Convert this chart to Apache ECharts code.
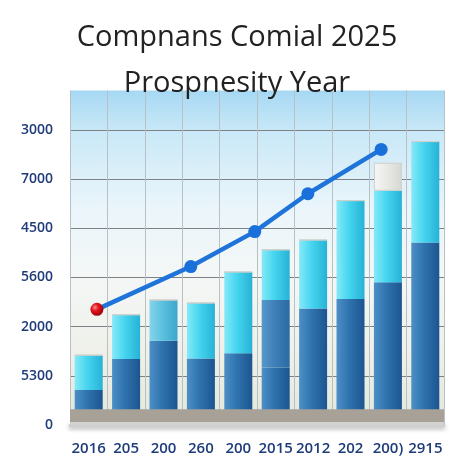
<!DOCTYPE html>
<html><head><meta charset="utf-8">
<script src="https://cdn.jsdelivr.net/npm/echarts@6/dist/echarts.min.js"></script>
<style>html,body{margin:0;padding:0;background:#fff}#c{width:474px;height:474px}</style>
</head><body><div id="c"></div>
<script>
// ---- data ----
const titleLines = ['Compnans Comial 2025', 'Prospnesity Year'];
const categories = ['2016', '205', '200', '260', '200', '2015', '2012', '202', '200)', '2915'];
const yTickLabels = ['0', '5300', '2000', '5600', '4500', '7000', '3000'];
// stacked bar segments (axis units: 1000 per tick step)
const darkSeg = [710, 1340, 1710, 1350, 1460, 1170, 2370, 2560, 2900, 3710];
const midSeg  = [0, 0, 0, 0, 0, 1370, 0, 0, 0, 0];
const cyanSeg = [710, 900, 830, 1130, 1650, 1020, 1390, 2000, 1860, 2050];
const capSeg  = [0, 0, 0, 0, 0, 0, 0, 0, 570, 0];
// trend line: position along the category axis (index units) and value
const lineX = [0.22, 2.73, 4.44, 5.86, 7.82];
const lineY = [2350, 3220, 3930, 4700, 5600];

// ---- styling ----
const hGrad = (a, b, c) => new echarts.graphic.LinearGradient(0, 0, 1, 0, [
  {offset: 0, color: a}, {offset: 0.45, color: b}, {offset: 1, color: c}]);
const darkFill = hGrad('#4d8fc6', '#2f73ae', '#1c5590');
const midFill = hGrad('#5a98cb', '#3f80b8', '#2b6aa3');
const cyanFill = hGrad('#86e9f8', '#45d5ef', '#27b2d6');
const cyanAlt = hGrad('#86d4ec', '#5cc1df', '#3ea6cc');
const capFill = hGrad('#f6f6f4', '#e9e9e6', '#d6d6d2');

const chart = echarts.init(document.getElementById('c'), null, {renderer: 'canvas'});
const labelColor = '#1e3b7a';

const barBase = {type: 'bar', stack: 'total', barWidth: 28, xAxisIndex: 0, yAxisIndex: 0};

chart.setOption({
  backgroundColor: '#ffffff',
  animation: false,
  title: {
    text: titleLines.join('\n'),
    left: 'center',
    top: 15,
    padding: 0,
    textStyle: {fontFamily: 'Open Sans', fontSize: 29, fontWeight: 'normal', color: '#222', lineHeight: 46}
  },
  grid: {
    left: 70, right: 30, top: 90.4, bottom: 49,
    show: true, borderWidth: 0,
    backgroundColor: new echarts.graphic.LinearGradient(0, 0, 0, 1, [
      {offset: 0, color: '#a6d8f3'},
      {offset: 0.12, color: '#c9e8f7'},
      {offset: 0.35, color: '#eaf5fb'},
      {offset: 0.55, color: '#f4f7f6'},
      {offset: 0.8, color: '#eef0e8'},
      {offset: 1, color: '#e3e7da'}
    ])
  },
  xAxis: [{
    type: 'category',
    data: categories,
    boundaryGap: true,
    axisTick: {show: false},
    axisLine: {show: true, lineStyle: {color: '#cfcfcf', width: 3, shadowColor: 'rgba(0,0,0,0.35)', shadowBlur: 4, shadowOffsetY: 2}},
    axisLabel: {color: labelColor, fontFamily: 'Open Sans', fontSize: 15, fontWeight: 600, margin: 16, interval: 0},
    splitLine: {show: true, interval: 0, lineStyle: {color: '#b7c0c5', width: 1}}
  }, {
    type: 'value', min: -0.5, max: 9.5, show: false
  }],
  yAxis: [{
    type: 'value', min: 0, max: 6800, interval: 1000,
    axisLine: {show: false}, axisTick: {show: false},
    axisLabel: {
      color: labelColor, fontFamily: 'Open Sans', fontSize: 14, fontWeight: 600, margin: 17,
      formatter: v => (v % 1000 === 0 && yTickLabels[v / 1000] !== undefined) ? yTickLabels[v / 1000] : ''
    },
    splitLine: {show: true, showMaxLine: false, lineStyle: {color: '#7c8286', width: 1}}
  }],
  series: [
    Object.assign({}, barBase, {name: 'dark', data: darkSeg, itemStyle: {color: darkFill}}),
    Object.assign({}, barBase, {name: 'mid', data: midSeg, itemStyle: {color: midFill}}),
    Object.assign({}, barBase, {name: 'cyan',
      data: cyanSeg.map((v, i) => i === 2 ? {value: v, itemStyle: {color: cyanAlt}} : v),
      itemStyle: {color: cyanFill}}),
    Object.assign({}, barBase, {name: 'cap', data: capSeg,
      itemStyle: {color: capFill, borderColor: '#cfcfcb', borderWidth: 1},
      markArea: {
        silent: true, z: 10,
        data: [
          [{yAxis: 60, itemStyle: {color: '#a8a198'}}, {yAxis: 320}],
          [{yAxis: 0, itemStyle: {color: '#d2d2d0'}}, {yAxis: 60}]
        ]
      }}),
    {
      type: 'line', name: 'trend', xAxisIndex: 1, yAxisIndex: 0, z: 12,
      data: lineX.map((x, i) => i === 0 ? {
        value: [x, lineY[i]],
        itemStyle: {color: new echarts.graphic.RadialGradient(0.35, 0.35, 0.7, [
          {offset: 0, color: '#ff8a8a'}, {offset: 0.4, color: '#e0141e'}, {offset: 1, color: '#9c0008'}])}
      } : [x, lineY[i]]),
      symbol: 'circle', symbolSize: 13,
      lineStyle: {color: '#1e74d8', width: 4.5},
      itemStyle: {color: '#1a70db'}
    }
  ]
});
</script>
</body></html>
